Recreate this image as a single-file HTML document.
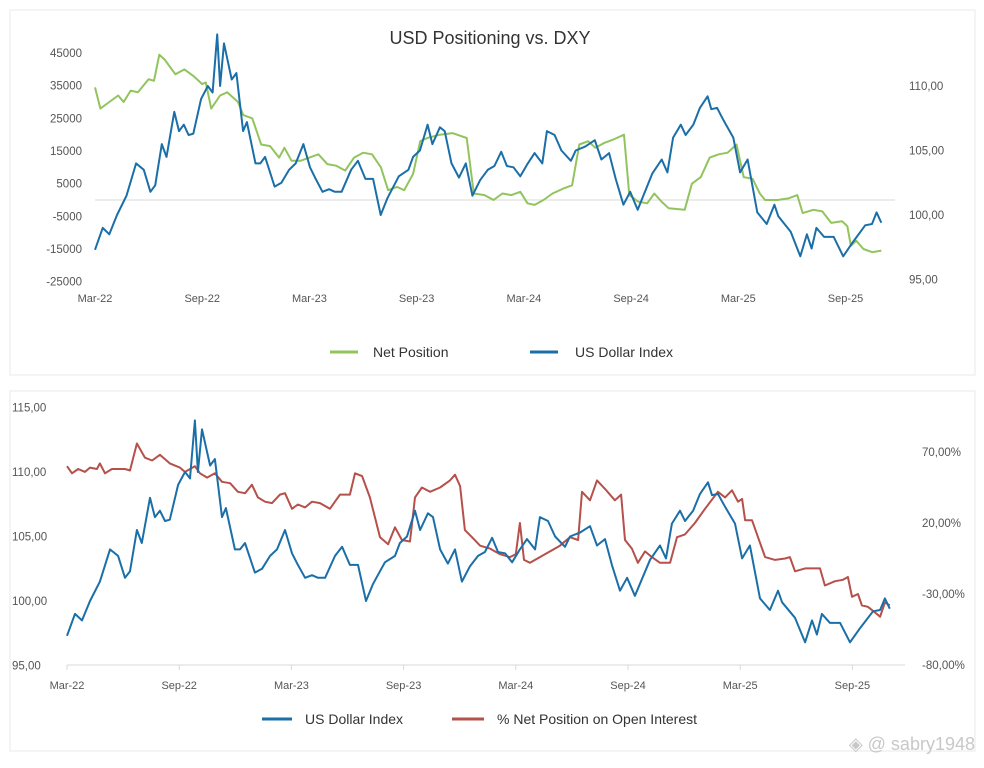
<!DOCTYPE html>
<html><head><meta charset="utf-8">
<style>
html,body{margin:0;padding:0;background:#fff;width:984px;height:768px;overflow:hidden;font-family:"Liberation Sans",sans-serif;}
svg text{font-family:"Liberation Sans",sans-serif;}
</style></head>
<body>
<svg id="c" width="984" height="768" viewBox="0 0 984 768" xmlns="http://www.w3.org/2000/svg">
<rect x="10" y="10" width="965" height="365" fill="#fff" stroke="#e8e8e8"/>
<rect x="10" y="391" width="965" height="360" fill="#fff" stroke="#e8e8e8"/>
<text x="490" y="44" text-anchor="middle" font-size="18" fill="#333">USD Positioning vs. DXY</text>
<g id="topChart"></g>
<g id="botChart"></g>
<g>
<line x1="330" y1="352" x2="358" y2="352" stroke="#92c45e" stroke-width="3"/>
<text x="373" y="357" font-size="14" fill="#333">Net Position</text>
<line x1="530" y1="352" x2="558" y2="352" stroke="#1a6fa8" stroke-width="3"/>
<text x="575" y="357" font-size="14" fill="#333">US Dollar Index</text>
</g>
<g>
<line x1="262" y1="719" x2="292" y2="719" stroke="#1a6fa8" stroke-width="3"/>
<text x="305" y="724" font-size="14" fill="#333">US Dollar Index</text>
<line x1="452" y1="719" x2="484" y2="719" stroke="#b5504a" stroke-width="3"/>
<text x="497" y="724" font-size="14" fill="#333">% Net Position on Open Interest</text>
</g>
<text x="975" y="750" text-anchor="end" font-size="18" fill="#c8c8c8">◈ @ sabry1948</text>
</svg>
<script>
const xLabels=["Mar-22","Sep-22","Mar-23","Sep-23","Mar-24","Sep-24","Mar-25","Sep-25"];
const netTicks=[45000,35000,25000,15000,5000,-5000,-15000,-25000];
const dxyTopTicks=[110,105,100,95];
const dxyBotTicks=[115,110,105,100,95];
const pctTicks=[70,20,-30,-80];
const dxyMonths=[0,0.43,0.8,1.23,1.76,2.3,2.73,3.1,3.37,3.74,4.0,4.44,4.7,4.97,5.24,5.5,5.94,6.31,6.58,6.84,7.0,7.22,7.65,7.91,8.29,8.5,8.98,9.25,9.52,10.05,10.43,10.86,11.23,11.66,12.03,12.35,12.73,13.1,13.42,13.8,14.33,14.71,15.13,15.56,15.99,16.36,17.0,17.54,17.8,18.18,18.61,18.88,19.3,19.57,19.95,20.37,20.75,21.12,21.55,21.98,22.35,22.73,23.05,23.42,23.8,24.22,24.6,25.03,25.29,25.72,26.1,26.63,26.9,27.43,27.97,28.34,28.77,29.14,29.57,29.95,30.37,31.18,31.71,32.03,32.35,32.78,33.05,33.48,33.85,34.28,34.49,34.81,35.19,35.72,36.1,36.52,37.06,37.59,38.02,38.24,38.93,39.47,39.84,40.1,40.37,40.8,41.34,41.87,42.41,43.1,43.48,43.74,44.0];
const dxyValues=[97.3,99,98.5,100,101.5,104,103.5,101.8,102.3,105.5,104.5,108,106.5,107,106.2,106.3,109,110,109.5,114,110,113.3,110.5,111,106.5,107.2,104,104,104.5,102.2,102.5,103.5,104,105.5,103.7,102.8,101.8,102,101.8,101.8,103.5,104.2,102.8,102.8,100,101.3,103,103.5,104.5,105,107,105.5,106.8,106.5,104,102.9,104,101.5,102.7,103.5,103.8,104.9,103.8,103.7,103,104,104.8,104,106.5,106.2,105,104.2,105,105.3,105.8,104.3,104.8,102.8,100.8,101.8,100.4,103.2,104.3,103.3,106,107,106.2,107,108.3,109.2,108.2,108.3,107.3,106,103.3,104.3,100.2,99.3,100.8,99.9,98.7,96.8,98.5,97.4,99,98.3,98.3,96.8,97.9,99.2,99.3,100.2,99.4];
const netMonths=[0,0.3,0.8,1.3,1.6,2.0,2.4,3.0,3.3,3.6,3.9,4.5,5.0,5.5,6.0,6.2,6.5,7.0,7.4,8.0,8.3,8.8,9.3,9.8,10.3,10.6,11.0,11.5,12.0,12.5,13.0,13.5,14.0,14.5,15.0,15.5,16.0,16.4,16.9,17.3,17.8,18.2,18.6,19.3,20.0,20.8,21.2,21.8,22.3,22.8,23.3,23.8,24.2,24.6,25.1,25.6,26.2,26.7,27.1,27.6,28.0,28.5,29.0,29.6,29.9,30.4,30.9,31.3,31.7,32.1,33.0,33.4,33.9,34.4,34.9,35.4,35.9,36.3,36.8,37.2,37.5,38.2,38.8,39.3,39.6,40.2,40.7,41.2,41.8,42.1,42.3,42.6,43.0,43.5,44.0];
const netValues=[34500,28000,30000,32000,30000,33500,33000,37000,36500,44500,43000,38500,40000,38000,35500,36000,28000,32000,33000,30000,26000,25000,17000,16500,13000,16000,12000,12000,13000,14000,11000,10500,9000,13000,14500,14000,10000,3000,4000,3000,8000,18000,19000,20000,20500,19000,2000,1500,0,2000,1500,2500,-1000,-1500,0,2000,3500,4500,17000,18000,16000,17500,18500,20000,1500,-500,-1000,2000,-500,-2500,-3000,5000,7000,13000,14000,14500,17000,7000,6500,2000,0,0,500,1500,-4000,-3000,-3500,-7000,-6500,-8000,-14000,-12500,-15000,-16000,-15500];
const pctMonths=[0,0.27,0.6,0.96,1.23,1.6,1.76,2.03,2.4,2.83,3.1,3.37,3.74,4.17,4.55,4.97,5.5,6.04,6.31,6.84,7.11,7.49,7.91,8.29,8.72,9.14,9.52,9.89,10.21,10.59,10.96,11.39,11.66,12.03,12.35,12.73,13.1,13.53,14.06,14.6,15.13,15.4,15.78,16.2,16.74,17.17,17.54,17.91,18.34,18.61,18.98,19.41,19.95,20.48,20.75,21.02,21.28,21.66,22.09,22.62,23.16,23.69,24.0,24.22,24.44,24.76,25.29,25.83,26.36,26.9,27.33,27.54,27.97,28.34,28.77,29.3,29.63,29.84,30.21,30.53,30.91,31.28,31.71,32.25,32.62,33.05,33.58,34.12,34.81,35.19,35.56,35.88,36.1,36.26,36.63,36.95,37.33,37.86,38.4,38.66,38.93,39.47,40.0,40.27,40.53,41.07,41.5,41.76,41.98,42.3,42.51,42.83,43.21,43.48,43.74,44.0];
const pctValues=[60,55,58,56,59,58,62,55,58,58,58,57,76,66,64,68,62,59,56,60,55,52,55,49,48,42,41,47,38,35,34,40,41,30,33,31,35,34,30,40,40,55,53,38,10,5,17,8,7,38,45,42,45,50,54,46,15,10,4,2,-2,-4,-2,20,-6,-8,-4,0,4,10,8,42,36,50,44,36,40,8,2,-8,0,-4,-8,-8,10,12,20,30,42,38,43,35,37,22,22,10,-4,-6,-5,-4,-14,-12,-12,-12,-24,-21,-20,-18,-32,-30,-38,-39,-43,-46,-36,-38];

const NS="http://www.w3.org/2000/svg";
function mk(parent,tag,attrs,txt){const e=document.createElementNS(NS,tag);for(const k in attrs)e.setAttribute(k,attrs[k]);if(txt!==undefined)e.textContent=txt;parent.appendChild(e);return e;}
const xTop=m=>95+m*17.87;
const yNet=v=>200-v*0.003265;
const yDxyTop=v=>215-(v-100)*12.9;
const xBot=m=>67+m*18.7;
const yDxyBot=v=>601-(v-100)*12.9;
const yPct=v=>665-(v+80)*1.42;
function pathD(ms,vs,fx,fy){return ms.map((m,i)=>(i?"L":"M")+fx(m).toFixed(1)+","+fy(vs[i]).toFixed(1)).join("");}

const topG=document.getElementById('topChart');
const botG=document.getElementById('botChart');
const zl=mk(topG,'line',{x1:95,x2:895,y1:yNet(0),y2:yNet(0),stroke:'#d9d9d9','stroke-width':1});


netTicks.forEach(v=>{const t=mk(topG,'text',{x:82,y:yNet(v)+4,'text-anchor':'end','font-size':11.5,fill:'#555'},String(v));

});
dxyTopTicks.forEach(v=>{const t=mk(topG,'text',{x:909,y:yDxyTop(v)+4,'font-size':11.5,fill:'#555'},v.toFixed(2).replace('.',','));

});
xLabels.forEach((l,i)=>{const t=mk(topG,'text',{x:xTop(i*6),y:302,'text-anchor':'middle','font-size':11,fill:'#555'},l);

});
const g1=mk(topG,'path',{d:pathD(netMonths,netValues,xTop,yNet),fill:'none',stroke:'#92c45e','stroke-width':2,'stroke-linejoin':'round'});


const b1=mk(topG,'path',{d:pathD(dxyMonths,dxyValues,xTop,yDxyTop),fill:'none',stroke:'#1a6fa8','stroke-width':2,'stroke-linejoin':'round'});


const ax=mk(botG,'line',{x1:67,x2:905,y1:665,y2:665,stroke:'#d9d9d9','stroke-width':1});


dxyBotTicks.forEach(v=>{const t=mk(botG,'text',{x:12,y:yDxyBot(v)+4,'font-size':11.5,fill:'#555'},v.toFixed(2).replace('.',','));

});
pctTicks.forEach(v=>{const t=mk(botG,'text',{x:922,y:yPct(v)+4,'font-size':11.5,fill:'#555'},v.toFixed(2).replace('.',',')+'%');

});
xLabels.forEach((l,i)=>{const x=xBot(i*6);
const tk=mk(botG,'line',{x1:x,x2:x,y1:665,y2:670,stroke:'#d9d9d9'});


const t=mk(botG,'text',{x:x,y:689,'text-anchor':'middle','font-size':11,fill:'#555'},l);

});
const r2=mk(botG,'path',{d:pathD(pctMonths,pctValues,xBot,yPct),fill:'none',stroke:'#b5504a','stroke-width':2,'stroke-linejoin':'round'});


const b2=mk(botG,'path',{d:pathD(dxyMonths,dxyValues,xBot,yDxyBot),fill:'none',stroke:'#1a6fa8','stroke-width':2,'stroke-linejoin':'round'});


</script>
</body></html>
